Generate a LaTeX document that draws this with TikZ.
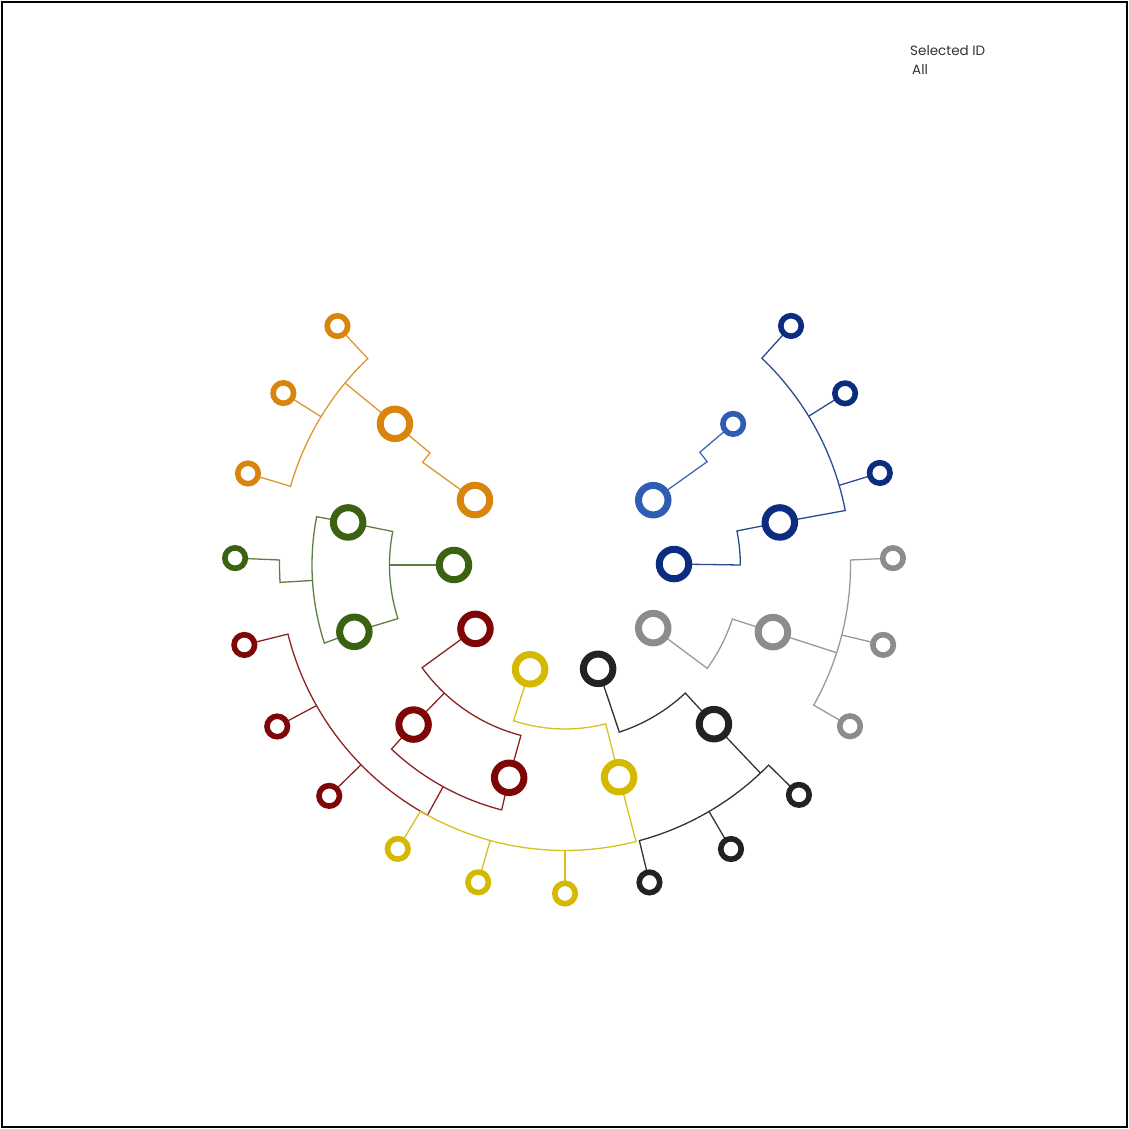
\documentclass[tikz,border=0pt]{standalone}
\usepackage{fontspec}
\setmainfont{Poppins}
\pgfdeclarelayer{bg}
\pgfsetlayers{bg,main}
\definecolor{cO}{HTML}{D9850B}
\definecolor{cOl}{HTML}{DF9530}
\definecolor{cG}{HTML}{3B6211}
\definecolor{cGl}{HTML}{5C7F3E}
\definecolor{cR}{HTML}{7E0606}
\definecolor{cRl}{HTML}{8E2222}
\definecolor{cY}{HTML}{D5B800}
\definecolor{cYl}{HTML}{D9BF20}
\definecolor{cK}{HTML}{222222}
\definecolor{cKl}{HTML}{333333}
\definecolor{cGr}{HTML}{8C8C8C}
\definecolor{cGrl}{HTML}{999999}
\definecolor{cB}{HTML}{0B2C7F}
\definecolor{cBl}{HTML}{2A4A92}
\definecolor{cLB}{HTML}{2E5DB3}
\definecolor{cLBl}{HTML}{4068B5}
\definecolor{cTxt}{HTML}{333333}
\begin{document}
\begin{tikzpicture}[x=1pt,y=1pt,
  big/.style={circle,draw,fill=white,line width=7pt,minimum size=29.5pt,inner sep=0pt,outer sep=0pt},
  small/.style={circle,draw,fill=white,line width=5.6pt,minimum size=20.5pt,inner sep=0pt,outer sep=0pt},
  link/.style={line width=1.3pt,line join=miter},
  lbl/.style={anchor=base west,inner sep=0pt,text=cTxt,font=\fontsize{13.5}{16}\selectfont}]
\useasboundingbox (0,0) rectangle (1129,1129);
\draw[line width=2pt] (2,2) rectangle (1127,1127);
\node[lbl] (sel) at (910,1073.5) {Selected ID};
\node[lbl] (all) at (912,1054.5) {All};
\begin{scope}[shift={(565,564)}]
% ---------- rings ----------
% orange
\node[big,draw=cO] (o5) at (144.2:111) {};
\node[big,draw=cO] (o4) at (140.3:221) {};
\node[small,draw=cO] (o1) at (133.6:330) {};
\node[small,draw=cO] (o2) at (148.6:330) {};
\node[small,draw=cO] (o3) at (163.9:330) {};
% green
\node[big,draw=cG] (g2) at (180:111) {};
\node[big,draw=cG] (g1) at (168.9:221) {};
\node[big,draw=cG] (g3) at (197.6:221) {};
\node[small,draw=cG] (g4) at (178.8:330) {};
% red
\node[big,draw=cR] (r1) at (215.5:110) {};
\node[big,draw=cR] (r2) at (226.5:220) {};
\node[big,draw=cR] (r3) at (255.3:220) {};
\node[small,draw=cR] (r4) at (194:330.5) {};
\node[small,draw=cR] (r5) at (209.3:330) {};
\node[small,draw=cR] (r6) at (224.4:330) {};
% yellow
\node[big,draw=cY] (y1) at (251.5:110) {};
\node[big,draw=cY] (y2) at (284.3:219) {};
\node[small,draw=cY] (y3) at (239.5:329.5) {};
\node[small,draw=cY] (y4) at (254.7:329) {};
\node[small,draw=cY] (y5) at (270:328.5) {};
% black
\node[big,draw=cK] (k1) at (287.7:109) {};
\node[big,draw=cK] (k2) at (313.1:218) {};
\node[small,draw=cK] (k3) at (315.5:328) {};
\node[small,draw=cK] (k4) at (300.3:329) {};
\node[small,draw=cK] (k5) at (284.9:328.5) {};
% grey
\node[big,draw=cGr] (e1) at (324.4:108.5) {};
\node[big,draw=cGr] (e2) at (342.1:218.5) {};
\node[small,draw=cGr] (e3) at (1.2:328) {};
\node[small,draw=cGr] (e4) at (345.9:328) {};
\node[small,draw=cGr] (e5) at (330.5:327.5) {};
% blue
\node[big,draw=cB] (b3) at (0.5:109) {};
\node[big,draw=cB] (b4) at (11.2:219) {};
\node[big,draw=cLB] (b1) at (36.3:109.5) {};
\node[small,draw=cLB] (b2) at (40:219.5) {};
\node[small,draw=cB] (b5) at (46.6:329) {};
\node[small,draw=cB] (b6) at (31.5:328.5) {};
\node[small,draw=cB] (b7) at (16.3:328) {};
% ---------- junction points ----------
\coordinate (jo1) at (144.2:175.5);
\coordinate (jo2) at (140.4:285.5);
\coordinate (jo3) at (133.7:285.5);
\coordinate (jo4) at (148.7:285.5);
\coordinate (jg1) at (169:175.5);
\coordinate (jg2) at (180:175.5);
\coordinate (jg3) at (169:253);
\coordinate (jg4) at (183.5:253);
\coordinate (jg5) at (183.5:285.5);
\coordinate (jr1) at (215.7:176);
\coordinate (jr2) at (226.7:176);
\coordinate (jr3) at (226.7:253);
\coordinate (jr4) at (241.2:253);
\coordinate (jr5) at (241.2:285.5);
\coordinate (jr6) at (194:285.5);
\coordinate (jr7) at (209.5:285.5);
\coordinate (jr8) at (224.4:285.5);
\coordinate (jy1) at (251.7:164);
\coordinate (jy2) at (284.4:285.5);
\coordinate (jy3) at (254.8:285.5);
\coordinate (jy4) at (270:285.5);
\coordinate (jk1) at (288:175.7);
\coordinate (jk2) at (313.2:285.5);
\coordinate (jk3) at (285.1:285.5);
\coordinate (jk4) at (300.3:285.5);
\coordinate (je1) at (324:175.8);
\coordinate (je2) at (342.1:285.5);
\coordinate (je3) at (330.6:285.5);
\coordinate (je4) at (345.8:285.5);
\coordinate (jb1) at (0:175.3);
\coordinate (jb2) at (11:285.5);
\coordinate (jb3) at (31.4:285.5);
\coordinate (jb4) at (16.2:285.5);
\coordinate (jb5) at (36:175.7);
% ---------- connectors ----------
\begin{pgfonlayer}{bg}
\begin{scope}[link,draw=cOl]
\draw (o5.center) -- (jo1) arc[start angle=144.2,end angle=140.3,radius=175.5] -- (o4.center);
\draw (o4.center) -- (jo2);
\draw (o1.center) -- (jo3) arc[start angle=133.7,end angle=164,radius=285.5] -- (o3.center);
\draw (o2.center) -- (jo4);
\end{scope}
\begin{scope}[link,draw=cGl]
\draw (g1.center) -- (jg1) arc[start angle=169,end angle=197.8,radius=175.5] -- (g3.center);
\draw (g2.center) -- (jg2);
\draw (g1.center) -- (jg3) arc[start angle=169,end angle=198,radius=253] -- (g3.center);
\draw (jg4) -- (jg5) arc[start angle=183.5,end angle=179,radius=285.5] -- (g4.center);
\end{scope}
\begin{scope}[link,draw=cRl]
\draw (r1.center) -- (jr1) arc[start angle=215.7,end angle=255.5,radius=176] -- (r3.center);
\draw (r2.center) -- (jr2);
\draw (r2.center) -- (jr3) arc[start angle=226.7,end angle=255.5,radius=253] -- (r3.center);
\draw (jr4) -- (jr5);
\draw (r4.center) -- (jr6) arc[start angle=194,end angle=241.2,radius=285.5];
\draw (r5.center) -- (jr7);
\draw (r6.center) -- (jr8);
\end{scope}
\begin{scope}[link,draw=cYl]
\draw (y1.center) -- (jy1) arc[start angle=251.7,end angle=284.4,radius=164] -- (y2.center);
\draw (y2.center) -- (jy2) arc[start angle=284.4,end angle=239.6,radius=285.5] -- (y3.center);
\draw (y4.center) -- (jy3);
\draw (y5.center) -- (jy4);
\end{scope}
\begin{scope}[link,draw=cKl]
\draw (k1.center) -- (jk1) arc[start angle=288,end angle=313.2,radius=175.7] -- (k2.center);
\draw (k2.center) -- (jk2);
\draw (k5.center) -- (jk3) arc[start angle=285.1,end angle=315.5,radius=285.5] -- (k3.center);
\draw (k4.center) -- (jk4);
\end{scope}
\begin{scope}[link,draw=cGrl]
\draw (e1.center) -- (je1) arc[start angle=324,end angle=342.1,radius=175.8] -- (e2.center);
\draw (e2.center) -- (je2);
\draw (e5.center) -- (je3) arc[start angle=330.6,end angle=361,radius=285.5] -- (e3.center);
\draw (e4.center) -- (je4);
\end{scope}
\begin{scope}[link,draw=cBl]
\draw (b3.center) -- (jb1) arc[start angle=0,end angle=11.2,radius=175.3] -- (b4.center);
\draw (b4.center) -- (jb2) arc[start angle=11,end angle=46.4,radius=285.5] -- (b5.center);
\draw (b6.center) -- (jb3);
\draw (b7.center) -- (jb4);
\end{scope}
\begin{scope}[link,draw=cLBl]
\draw (b1.center) -- (jb5) arc[start angle=36,end angle=39.9,radius=175.7] -- (b2.center);
\end{scope}
\end{pgfonlayer}
\end{scope}
\end{tikzpicture}
\end{document}
